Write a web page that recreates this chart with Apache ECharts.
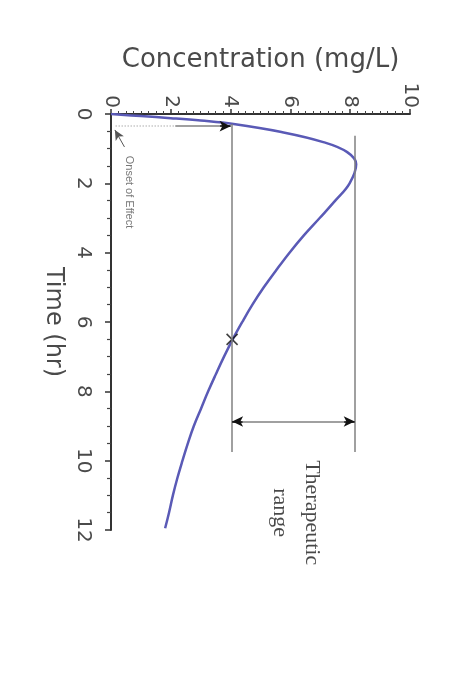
<!DOCTYPE html>
<html>
<head>
<meta charset="utf-8">
<style>
html, body { margin: 0; padding: 0; background: #fff; }
#main { width: 467px; height: 700px; }
</style>
<script src="https://cdn.jsdelivr.net/npm/echarts@6/dist/echarts.min.js"></script>
</head>
<body>
<div id="main"></div>
<script>
// curve: time (hr) and concentration (mg/L)
var timeHr = [0, 0.06, 0.12, 0.19, 0.29, 0.52, 0.81, 1.1, 1.45, 2, 2.5, 3, 3.5, 4, 4.5, 5, 5.5, 6, 6.5, 7, 7.5, 8, 8.5, 9, 9.5, 10, 10.5, 11, 11.5, 11.95];
var concMgL = [0, 1, 2, 3, 4.1, 5.7, 7.1, 7.9, 8.2, 7.98, 7.5, 6.98, 6.45, 5.97, 5.53, 5.11, 4.73, 4.39, 4.07, 3.78, 3.51, 3.25, 3.01, 2.77, 2.57, 2.39, 2.22, 2.07, 1.94, 1.81];

var concTicks = [0, 2, 4, 6, 8, 10];
var timeTicks = [0, 2, 4, 6, 8, 10, 12];

// therapeutic range bounds [conc, timeStart, timeEnd]
var rangeLow = [4.05, 0.29, 9.75];
var rangeHigh = [8.15, 0.63, 9.75];
var rangeArrowTime = 8.87;
var crossPoint = [4.05, 6.5];
var onsetArrow = [[0.45, 0.95], [0.13, 0.46]];
var onsetDotted = [[0.15, 0.35], [2.15, 0.35]];
var onsetSolid = [[2.15, 0.35], [4.0, 0.35]];
var labelOnset = ['Onset of Effect', 0.6, 2.25];
var labelRange = ['Therapeutic\nrange', 6.19, 11.5];

var chart = echarts.init(document.getElementById('main'));

var curve = timeHr.map(function (t, i) { return [concMgL[i], t]; });
var grey = '#808080';
var head = { symbol: 'arrow', symbolSize: [8, 11] };

function arrowTip(from, to) {
    // short dark piece so the arrowhead comes out black like the original
    return [
        { coord: from, symbol: 'none', lineStyle: { color: '#111', width: 1.5 } },
        { coord: to, symbol: head.symbol, symbolSize: head.symbolSize }
    ];
}

var option = {
    backgroundColor: '#fff',
    animation: false,
    grid: { left: 111, right: 57, top: 114, bottom: 170 },
    xAxis: {
        type: 'value',
        position: 'top',
        min: concTicks[0],
        max: concTicks[concTicks.length - 1],
        interval: 2,
        name: 'Concentration (mg/L)',
        nameLocation: 'middle',
        nameGap: 41,
        nameTextStyle: { fontFamily: 'DejaVu Sans', fontSize: 26, color: '#4a4a4a' },
        axisLine: { lineStyle: { color: '#333', width: 2 } },
        axisTick: { length: 5, lineStyle: { color: '#333', width: 1.5 } },
        minorTick: { show: true, splitNumber: 8, length: 3, lineStyle: { color: '#444', width: 1 } },
        axisLabel: { rotate: -90, fontFamily: 'DejaVu Sans', fontSize: 20, color: '#4a4a4a', margin: 6 },
        splitLine: { show: false }
    },
    yAxis: {
        type: 'value',
        inverse: true,
        min: timeTicks[0],
        max: timeTicks[timeTicks.length - 1],
        interval: 2,
        name: 'Time (hr)',
        nameLocation: 'middle',
        nameRotate: -90,
        nameGap: 46,
        nameTextStyle: { fontFamily: 'DejaVu Sans', fontSize: 24, color: '#4a4a4a' },
        axisLine: { lineStyle: { color: '#333', width: 2 } },
        axisTick: { length: 6, lineStyle: { color: '#333', width: 1.5 } },
        minorTick: { show: true, splitNumber: 4, length: 4, lineStyle: { color: '#444', width: 1.2 } },
        axisLabel: { rotate: -90, fontFamily: 'DejaVu Sans', fontSize: 20, color: '#4a4a4a', margin: 18 },
        splitLine: { show: false }
    },
    series: [
        {
            name: 'Concentration',
            type: 'line',
            data: curve,
            smooth: 0.4,
            showSymbol: false,
            lineStyle: { color: '#5a5ab6', width: 2.5 },
            z: 3,
            markLine: {
                silent: true,
                animation: false,
                label: { show: false },
                symbol: ['none', 'none'],
                lineStyle: { color: grey, width: 1.5, type: 'solid' },
                data: [
                    [{ coord: [rangeLow[0], rangeLow[1]] }, { coord: [rangeLow[0], rangeLow[2]] }],
                    [{ coord: [rangeHigh[0], rangeHigh[1]] }, { coord: [rangeHigh[0], rangeHigh[2]] }],
                    [{ coord: [rangeLow[0], rangeArrowTime] }, { coord: [rangeHigh[0], rangeArrowTime] }],
                    arrowTip([rangeLow[0] + 0.35, rangeArrowTime], [rangeLow[0], rangeArrowTime]),
                    arrowTip([rangeHigh[0] - 0.35, rangeArrowTime], [rangeHigh[0], rangeArrowTime]),
                    [{ coord: onsetDotted[0], lineStyle: { color: '#c8c8c8', type: 'dotted', width: 1.5 } },
                     { coord: onsetDotted[1] }],
                    [{ coord: onsetSolid[0], lineStyle: { color: grey, width: 1.5 } },
                     { coord: onsetSolid[1] }],
                    arrowTip([onsetSolid[1][0] - 0.35, onsetSolid[1][1]], onsetSolid[1]),
                    [{ coord: onsetArrow[0], lineStyle: { color: '#555', width: 1 } },
                     { coord: onsetArrow[1], symbol: 'arrow', symbolSize: [7, 10] }]
                ]
            }
        },
        {
            name: 'cross',
            type: 'scatter',
            data: [crossPoint],
            symbol: 'path://M0 0L10 10M10 0L0 10',
            symbolSize: 11,
            itemStyle: { color: 'transparent', borderColor: '#111', borderWidth: 1.6 },
            z: 4
        },
        {
            name: 'notes',
            type: 'scatter',
            symbolSize: 1,
            itemStyle: { color: 'transparent' },
            silent: true,
            data: [
                {
                    name: labelOnset[0], value: [labelOnset[1], labelOnset[2]],
                    label: { fontFamily: 'Liberation Sans', fontSize: 11, color: '#555' }
                },
                {
                    name: labelRange[0], value: [labelRange[1], labelRange[2]],
                    label: { fontFamily: 'Liberation Serif', fontSize: 22, color: '#1a1a1a', lineHeight: 32 }
                }
            ],
            label: {
                show: true,
                position: 'inside',
                rotate: -90,
                align: 'center',
                verticalAlign: 'middle',
                formatter: '{b}'
            }
        }
    ]
};
chart.setOption(option);
</script>
</body>
</html>
